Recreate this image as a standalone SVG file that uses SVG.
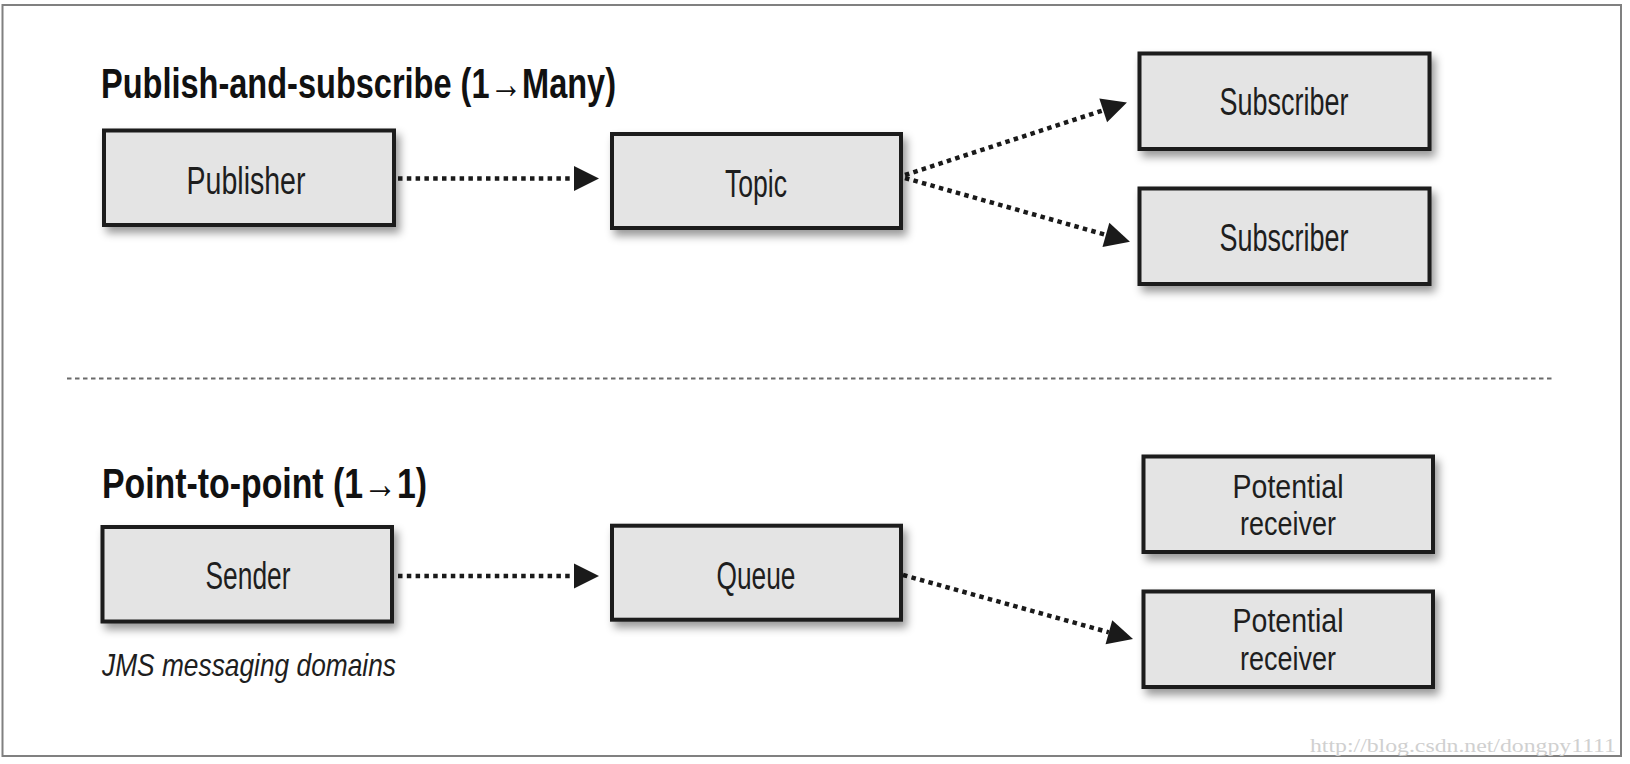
<svg xmlns="http://www.w3.org/2000/svg" width="1630" height="764" viewBox="0 0 1630 764">
<style>
.box{fill:#e4e4e4;stroke:#1c1c1c;stroke-width:4;filter:url(#sh)}
.lbl{font-family:"Liberation Sans Narrow","Liberation Sans",Arial,sans-serif;font-size:38px;fill:#1e1e1e;text-anchor:middle}
.lbl2{font-family:"Liberation Sans Narrow","Liberation Sans",Arial,sans-serif;font-size:33px;fill:#1e1e1e;text-anchor:middle}
.title{font-family:"Liberation Sans Narrow","Liberation Sans",Arial,sans-serif;font-size:42px;font-weight:bold;fill:#111}
.cap{font-family:"Liberation Sans Narrow","Liberation Sans",Arial,sans-serif;font-size:32px;font-style:italic;fill:#1e1e1e}
.wm{font-family:"Liberation Serif","DejaVu Serif",serif;font-size:19px;fill:#d0d0d0}
.dot{fill:none;stroke:#1a1a1a;stroke-width:4.5;stroke-dasharray:4.5 4.3;marker-end:url(#ah)}
</style>
<defs>
<filter id="sh" x="-10%" y="-15%" width="125%" height="140%">
<feDropShadow dx="4" dy="6" stdDeviation="4" flood-color="#000" flood-opacity="0.4"/>
</filter>
<marker id="ah" viewBox="0 -13 26 26" refX="0" refY="0" markerWidth="26" markerHeight="26" markerUnits="userSpaceOnUse" orient="auto" overflow="visible">
<path d="M0,-12.5 L25,0 L0,12.5 Z" fill="#1a1a1a"/>
</marker>
</defs>
<rect x="0" y="0" width="1630" height="764" fill="#fff"/>
<rect x="2.5" y="5" width="1618.5" height="751" fill="none" stroke="#808080" stroke-width="2"/>
<g id="titles">
<text class="title" x="101" y="98" textLength="515" lengthAdjust="spacingAndGlyphs">Publish-and-subscribe (1→Many)</text>
<text class="title" x="102" y="498" textLength="325" lengthAdjust="spacingAndGlyphs">Point-to-point (1→1)</text>
<text class="cap" x="102" y="676" textLength="294" lengthAdjust="spacingAndGlyphs">JMS messaging domains</text>
</g>
<line id="separator" x1="67" y1="378.5" x2="1554" y2="378.5" stroke="#6a6a6a" stroke-width="2" stroke-dasharray="4.5 3.5"/>
<g id="connectors">
<path class="dot" d="M398,178.5 L574,178.5"/>
<path class="dot" d="M905,175 L1103.2,110.3"/>
<path class="dot" d="M905,178 L1105.9,234.9"/>
<path class="dot" d="M398,576 L574,576"/>
<path class="dot" d="M903,575 L1108.9,632.3"/>
</g>
<g id="node-publisher">
<rect class="box" x="104" y="130.5" width="290" height="94.5"/>
<text class="lbl" x="246" y="194" textLength="119" lengthAdjust="spacingAndGlyphs">Publisher</text>
</g>
<g id="node-topic">
<rect class="box" x="612" y="134" width="289" height="94"/>
<text class="lbl" x="756" y="197" textLength="62" lengthAdjust="spacingAndGlyphs">Topic</text>
</g>
<g id="node-subscriber1">
<rect class="box" x="1139.5" y="53.5" width="290" height="95.5"/>
<text class="lbl" x="1284" y="115" textLength="129" lengthAdjust="spacingAndGlyphs">Subscriber</text>
</g>
<g id="node-subscriber2">
<rect class="box" x="1139.5" y="188.5" width="290" height="95.5"/>
<text class="lbl" x="1284" y="251" textLength="129" lengthAdjust="spacingAndGlyphs">Subscriber</text>
</g>
<g id="node-sender">
<rect class="box" x="102.5" y="527" width="289.5" height="94.5"/>
<text class="lbl" x="248" y="589" textLength="85" lengthAdjust="spacingAndGlyphs">Sender</text>
</g>
<g id="node-queue">
<rect class="box" x="612" y="525.7" width="289" height="94"/>
<text class="lbl" x="756" y="589" textLength="79" lengthAdjust="spacingAndGlyphs">Queue</text>
</g>
<g id="node-receiver1">
<rect class="box" x="1143.5" y="456.5" width="289.5" height="95.5"/>
<text class="lbl2" x="1288" y="497.5" textLength="111" lengthAdjust="spacingAndGlyphs">Potential</text>
<text class="lbl2" x="1288" y="535" textLength="96" lengthAdjust="spacingAndGlyphs">receiver</text>
</g>
<g id="node-receiver2">
<rect class="box" x="1143.5" y="591.5" width="289.5" height="95.5"/>
<text class="lbl2" x="1288" y="632" textLength="111" lengthAdjust="spacingAndGlyphs">Potential</text>
<text class="lbl2" x="1288" y="669.5" textLength="96" lengthAdjust="spacingAndGlyphs">receiver</text>
</g>
<text id="watermark" class="wm" x="1310" y="752" textLength="306" lengthAdjust="spacingAndGlyphs">http://blog.csdn.net/dongpy1111</text>
</svg>
